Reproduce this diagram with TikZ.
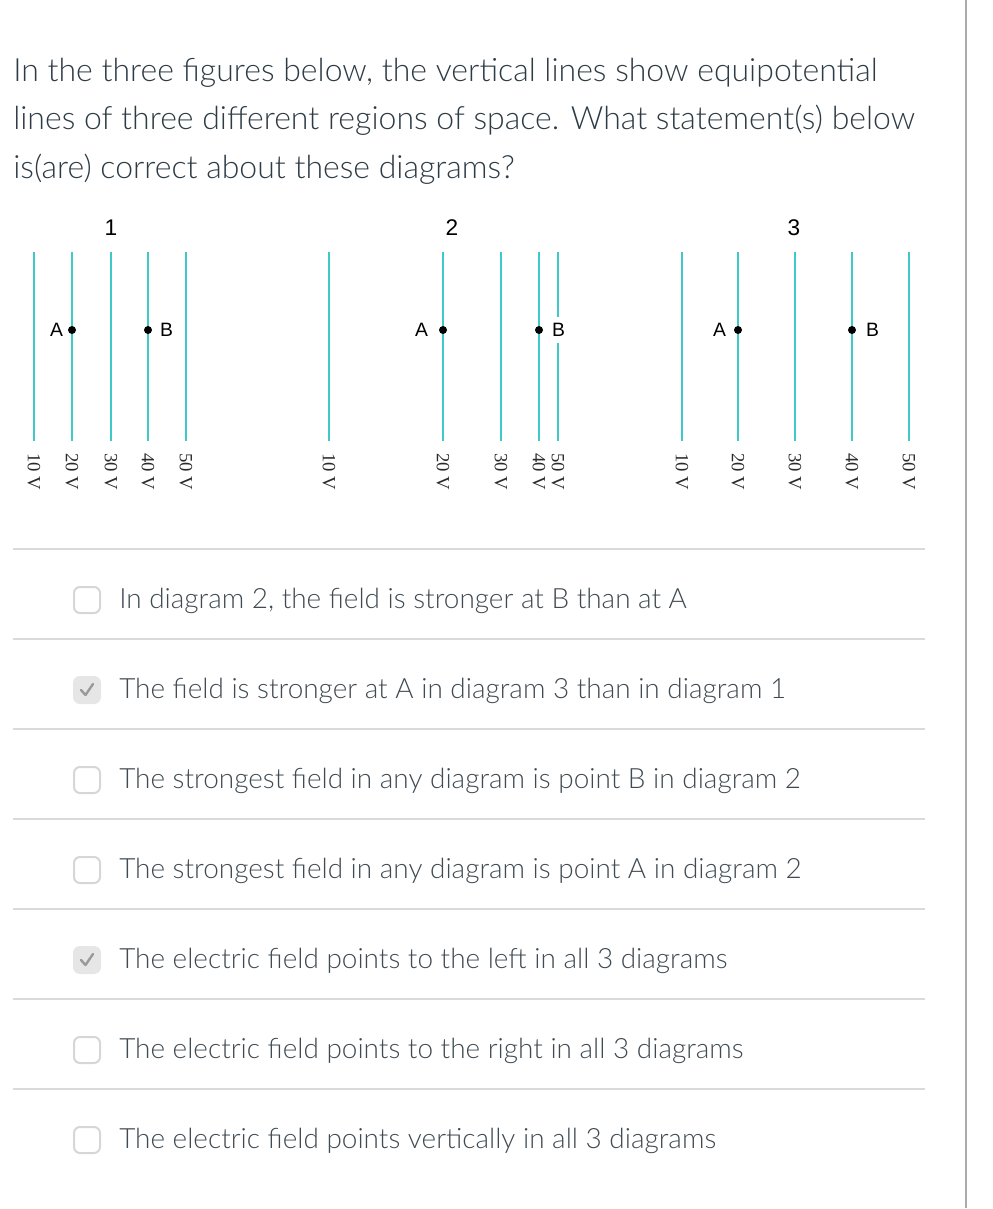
\documentclass[tikz,border=0pt]{standalone}
\usepackage{fontspec}
\setmainfont{Lato}[UprightFont=* Light]
\newfontfamily\helv{Liberation Sans}
\newfontfamily\tms{Liberation Serif}
\usetikzlibrary{positioning}
\definecolor{equicyan}{HTML}{3FC9C9}
\definecolor{qtext}{HTML}{2D3B45}
\definecolor{opttext}{HTML}{3F4A52}
\definecolor{vgray}{HTML}{2A2A2A}
\definecolor{rulegray}{HTML}{DADADA}
\definecolor{boxgray}{HTML}{D6D6D6}
\definecolor{boxfill}{HTML}{E6E6E6}
\definecolor{tickgray}{HTML}{9A9A9A}
\definecolor{edgegray}{HTML}{ABABAB}
\tikzstyle{equi} = [line width=2pt, draw=equicyan]
\tikzstyle{volt} = [rotate=-90, font=\tms\fontsize{14}{14}\selectfont, text=vgray, inner sep=0pt]
\tikzstyle{pt} = [circle, fill=black, inner sep=0pt, minimum size=6pt]
\tikzstyle{ptlabel} = [font=\helv\fontsize{14.5}{15}\selectfont, inner sep=0pt]
\tikzstyle{fignum} = [font=\helv\fontsize{17}{17}\selectfont]
\tikzstyle{question} = [anchor=base west, font=\fontsize{24}{28}\selectfont, text=qtext, inner sep=0pt]
\tikzstyle{optext} = [anchor=west, font=\fontsize{20.95}{24}\selectfont, text=opttext, inner sep=0pt]
\tikzstyle{cbox} = [draw=boxgray, line width=1.5pt, rounded corners=4.5pt, minimum size=19.5pt, inner sep=0pt]
\tikzstyle{cboxon} = [cbox, fill=boxfill, draw=boxfill]
\tikzstyle{tick} = [draw=tickgray, line width=1.8pt, line cap=round, line join=round]
\tikzstyle{sep} = [draw=rulegray, line width=1.2pt]

\begin{document}
\begin{tikzpicture}[x=0.75pt, y=-0.75pt]
    \useasboundingbox (0,0) rectangle (992,1209);
    \draw [draw=edgegray, line width=1.5pt] (966,0) -- (966,1208);

    % question
    \node (q1) [question] at (13,82) {In the three figures below, the vertical lines show equipotential};
    \node (q2) [question] at (13,130) {lines of three different regions of space. What statement(s) below};
    \node (q3) [question] at (13,178) {is(are) correct about these diagrams?};

    % figure 1
    \node (n1) [fignum] at (111,228) {1};
    \foreach \x/\v [count=\i] in {34/10, 72/20, 111/30, 148/40, 186/50} {
        \draw [equi] (\x,252) -- (\x,441);
        \node (d1v\i) [volt] at (\x,472) {\v\ V};
    }
    \node (d1A) [pt] at (72,330) {};
    \node (d1Alab) [ptlabel, left=3.4pt of d1A] {A};
    \node (d1B) [pt] at (148,330) {};
    \node (d1Blab) [ptlabel, right=5.6pt of d1B] {B};

    % figure 2
    \node (n2) [fignum] at (452,228) {2};
    \foreach \x/\v [count=\i] in {329/10, 443/20, 501/30, 539/40, 558/50} {
        \draw [equi] (\x,252) -- (\x,441);
        \node (d2v\i) [volt] at (\x,472) {\v\ V};
    }
    \node (d2A) [pt] at (443,330) {};
    \node (d2Alab) [ptlabel, left=7.9pt of d2A] {A};
    \node (d2B) [pt] at (539,330) {};
    \node (d2Blab) [ptlabel, right=6.4pt of d2B, fill=white, inner ysep=5pt] {B};

    % figure 3
    \node (n3) [fignum] at (794,228) {3};
    \foreach \x/\v [count=\i] in {682/10, 738/20, 795/30, 852/40, 909/50} {
        \draw [equi] (\x,252) -- (\x,441);
        \node (d3v\i) [volt] at (\x,472) {\v\ V};
    }
    \node (d3A) [pt] at (738,330) {};
    \node (d3Alab) [ptlabel, left=5.6pt of d3A] {A};
    \node (d3B) [pt] at (852,330) {};
    \node (d3Blab) [ptlabel, right=7.1pt of d3B] {B};

    % separators between the answers
    \foreach \y in {549, 639, 729, 819, 909, 999, 1089} {
        \draw [sep] (13,\y) -- (925,\y);
    }

    % answers
    \node (box1) [cbox] at (87,600) {};
    \node (opt1) [optext] at (119,601) {In diagram 2, the field is stronger at B than at A};
    \node (box2) [cboxon] at (87,690) {};
    \draw [tick] ([shift={(-6,0)}]box2.center) -- ([shift={(-1.5,5)}]box2.center) -- ([shift={(6,-6)}]box2.center);
    \node (opt2) [optext] at (119,691) {The field is stronger at A in diagram 3 than in diagram 1};
    \node (box3) [cbox] at (87,780) {};
    \node (opt3) [optext] at (119,781) {The strongest field in any diagram is point B in diagram 2};
    \node (box4) [cbox] at (87,870) {};
    \node (opt4) [optext] at (119,871) {The strongest field in any diagram is point A in diagram 2};
    \node (box5) [cboxon] at (87,960) {};
    \draw [tick] ([shift={(-6,0)}]box5.center) -- ([shift={(-1.5,5)}]box5.center) -- ([shift={(6,-6)}]box5.center);
    \node (opt5) [optext] at (119,961) {The electric field points to the left in all 3 diagrams};
    \node (box6) [cbox] at (87,1050) {};
    \node (opt6) [optext] at (119,1051) {The electric field points to the right in all 3 diagrams};
    \node (box7) [cbox] at (87,1140) {};
    \node (opt7) [optext] at (119,1141) {The electric field points vertically in all 3 diagrams};
\end{tikzpicture}
\end{document}
